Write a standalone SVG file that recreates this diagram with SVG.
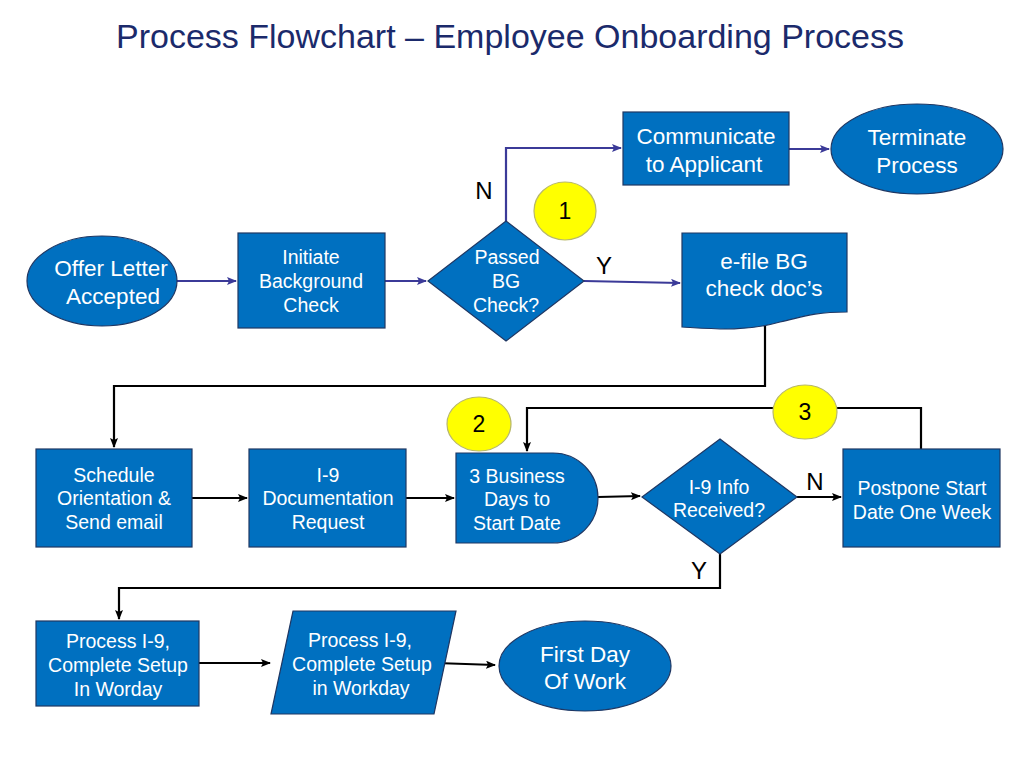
<svg xmlns="http://www.w3.org/2000/svg" width="1024" height="768" viewBox="0 0 1024 768">
<style>
.n{fill:#0070C0;stroke:#1F3763;stroke-width:1.2}
.t{font-family:"Liberation Sans",Arial,sans-serif;fill:#fff;text-anchor:middle}
.s{font-size:19.5px}
.l{font-size:22.5px}
.lab{font-family:"Liberation Sans",Arial,sans-serif;font-size:24px;fill:#000;text-anchor:middle}
.bp{fill:none;stroke:#3B3A98;stroke-width:2.2}
.bk{fill:none;stroke:#000;stroke-width:2.2}
.y{fill:#FFFF00;stroke:#B8B86A;stroke-width:1.2}
.num{font-family:"Liberation Sans",Arial,sans-serif;font-size:23px;fill:#000;text-anchor:middle}
</style>
<defs>
<marker id="ap" markerWidth="10" markerHeight="8" refX="9" refY="4" orient="auto" markerUnits="userSpaceOnUse"><path d="M0,0 L10,4 L0,8 L2,4 Z" fill="#3B3A98"/></marker>
<marker id="ak" markerWidth="10" markerHeight="8" refX="9" refY="4" orient="auto" markerUnits="userSpaceOnUse"><path d="M0,0 L10,4 L0,8 L2,4 Z" fill="#000"/></marker>
</defs>
<rect width="1024" height="768" fill="#fff"/>
<text x="510" y="48" font-family="'Liberation Sans',Arial,sans-serif" font-size="34" fill="#1B2A6B" text-anchor="middle">Process Flowchart – Employee Onboarding Process</text>

<g id="connectors">
<path class="bp" d="M177,281 H236" marker-end="url(#ap)"/>
<path class="bp" d="M385,281 H426" marker-end="url(#ap)"/>
<path class="bp" d="M506,221 V148 H621" marker-end="url(#ap)"/>
<path class="bp" d="M789,149 H829" marker-end="url(#ap)"/>
<path class="bp" d="M584,281 L680,283" marker-end="url(#ap)"/>
<path class="bk" d="M765,322 V386 H114 V447" marker-end="url(#ak)"/>
<path class="bk" d="M192,498 H247" marker-end="url(#ak)"/>
<path class="bk" d="M406,498 H454" marker-end="url(#ak)"/>
<path class="bk" d="M598,497 L640,496" marker-end="url(#ak)"/>
<path class="bk" d="M797,497 H841" marker-end="url(#ak)"/>
<path class="bk" d="M921,449 V408 H527 V451" marker-end="url(#ak)"/>
<path class="bk" d="M720,554 V588 H119 V619" marker-end="url(#ak)"/>
<path class="bk" d="M199,663 H270" marker-end="url(#ak)"/>
<path class="bk" d="M436,663 L495,665" marker-end="url(#ak)"/>
<text class="lab" x="484" y="199">N</text>
<text class="lab" x="604" y="274">Y</text>
<text class="lab" x="815" y="490">N</text>
<text class="lab" x="699" y="579">Y</text>
</g>

<g id="badge1"><ellipse class="y" cx="565" cy="211" rx="31" ry="29"/><text class="num" x="565" y="219">1</text></g>
<g id="badge2"><ellipse class="y" cx="479" cy="424" rx="32" ry="27"/><text class="num" x="479" y="432">2</text></g>
<g id="badge3"><ellipse class="y" cx="805" cy="412" rx="32" ry="27"/><text class="num" x="805" y="420">3</text></g>

<g id="offer"><ellipse class="n" cx="102" cy="281" rx="75" ry="45"/><text class="t l"><tspan x="111" y="276">Offer Letter</tspan><tspan x="113" y="304">Accepted</tspan></text></g>
<g id="initiate"><rect class="n" x="238" y="233" width="147" height="95"/><text class="t s"><tspan x="311" y="264">Initiate</tspan><tspan x="311" y="288">Background</tspan><tspan x="311" y="312">Check</tspan></text></g>
<g id="passed"><polygon class="n" points="506,221 584,281 506,341 428,281"/><text class="t s"><tspan x="507" y="264">Passed</tspan><tspan x="506" y="288">BG</tspan><tspan x="506" y="312">Check?</tspan></text></g>
<g id="communicate"><rect class="n" x="623" y="112" width="166" height="73"/><text class="t l"><tspan x="706" y="144">Communicate</tspan><tspan x="704" y="172">to Applicant</tspan></text></g>
<g id="terminate"><ellipse class="n" cx="917" cy="149" rx="86" ry="45"/><text class="t l"><tspan x="917" y="145">Terminate</tspan><tspan x="917" y="173">Process</tspan></text></g>
<g id="efile"><path class="n" d="M682,233 H847 V312 C810,312 800,318 780,322 C745,332 715,329 682,327 Z"/><text class="t l"><tspan x="764" y="269">e-file BG</tspan><tspan x="764" y="296">check doc’s</tspan></text></g>

<g id="schedule"><rect class="n" x="36" y="449" width="156" height="98"/><text class="t s"><tspan x="114" y="482">Schedule</tspan><tspan x="114" y="505">Orientation &amp;</tspan><tspan x="114" y="529">Send email</tspan></text></g>
<g id="i9doc"><rect class="n" x="249" y="449" width="157" height="98"/><text class="t s"><tspan x="328" y="482">I-9</tspan><tspan x="328" y="505">Documentation</tspan><tspan x="328" y="529">Request</tspan></text></g>
<g id="delay"><path class="n" d="M456,453 H553 A45,45 0 0 1 553,543 H456 Z"/><text class="t s"><tspan x="517" y="483">3 Business</tspan><tspan x="517" y="506">Days to</tspan><tspan x="517" y="530">Start Date</tspan></text></g>
<g id="i9info"><polygon class="n" points="720,439 797,497 720,554 642,497"/><text class="t s"><tspan x="719" y="494">I-9 Info</tspan><tspan x="719" y="517">Received?</tspan></text></g>
<g id="postpone"><rect class="n" x="843" y="449" width="157" height="98"/><text class="t s"><tspan x="922" y="495">Postpone Start</tspan><tspan x="922" y="519">Date One Week</tspan></text></g>

<g id="processA"><rect class="n" x="36" y="621" width="163" height="85"/><text class="t s"><tspan x="118" y="648">Process I-9,</tspan><tspan x="118" y="672">Complete Setup</tspan><tspan x="118" y="696">In Worday</tspan></text></g>
<g id="processB"><polygon class="n" points="293,611 456,611 434,714 271,714"/><text class="t s"><tspan x="360" y="647">Process I-9,</tspan><tspan x="362" y="671">Complete Setup</tspan><tspan x="361" y="695">in Workday</tspan></text></g>
<g id="firstday"><ellipse class="n" cx="585" cy="666" rx="86" ry="45"/><text class="t l"><tspan x="585" y="662">First Day</tspan><tspan x="585" y="689">Of Work</tspan></text></g>
</svg>
